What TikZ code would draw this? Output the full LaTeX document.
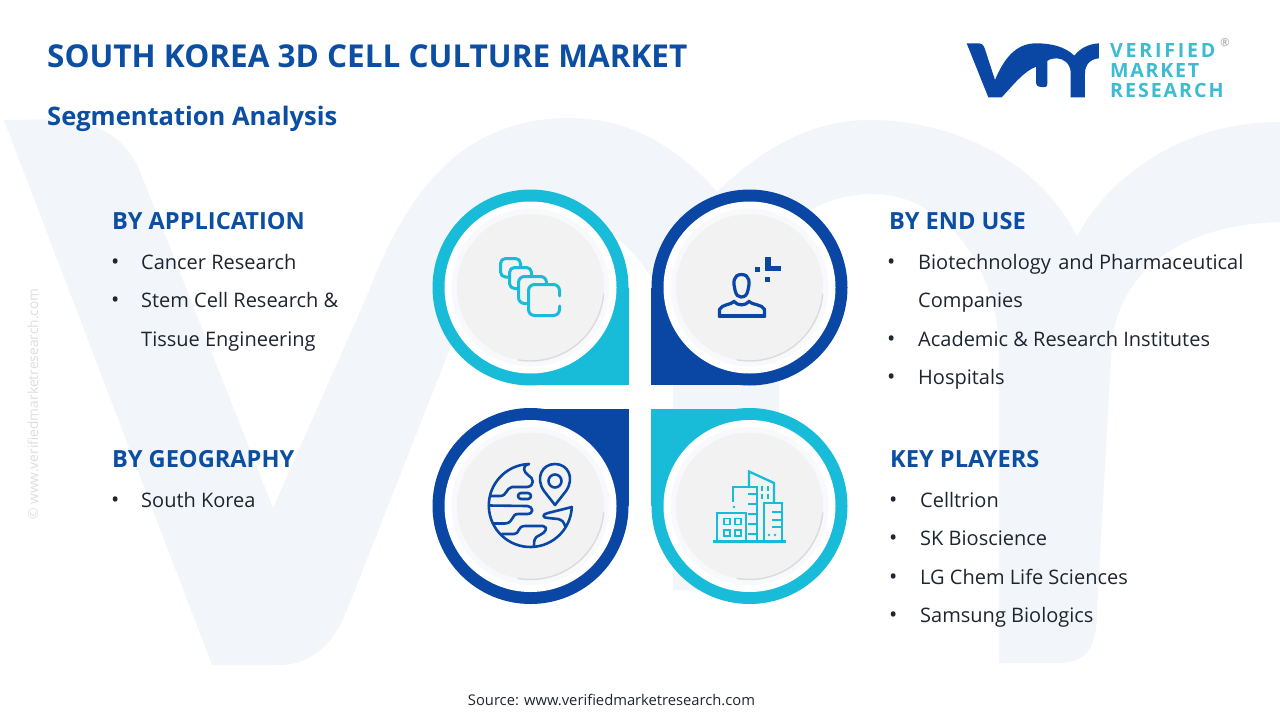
\documentclass[tikz,border=0pt]{standalone}
\usepackage{fontspec}
\setmainfont{Open Sans}
\newfontfamily\lgfa[LetterSpace=14]{Open Sans}
\newfontfamily\lgfb[LetterSpace=9]{Open Sans}
\newfontfamily\lgfc[LetterSpace=10]{Open Sans}
\definecolor{navy}{HTML}{0A47A5}
\definecolor{cyan1}{HTML}{18BCD9}
\definecolor{ttl}{HTML}{0B4EA2}
\definecolor{wm}{HTML}{F2F5FA}
\definecolor{body}{HTML}{1E2530}
\definecolor{disc}{HTML}{F2F2F3}
\definecolor{logotxt}{HTML}{3DBBD0}
\definecolor{halo}{HTML}{F8F9FC}
\tikzset{
 head/.style={anchor=base west,text=ttl,font=\fontsize{23.6}{24}\selectfont\bfseries,inner sep=0},
 item/.style={anchor=base west,text=body,font=\fontsize{20}{20}\selectfont,inner sep=0},
 bul/.style={anchor=base west,text=body,font=\fontsize{22}{22}\selectfont,inner sep=0},
 logol/.style={anchor=base west,text=logotxt,inner sep=0},
}
\newcommand{\drop}[5]{% cx cy sx sy color
 \fill[#5] (#1,#2) circle[radius=98];
 \fill[#5] (#1,#2) rectangle (#1+#3*98.5,#2+#4*97.5);
 \fill[white] (#1,#2) circle[radius=86];
 \fill[halo] (#1,#2) circle[radius=79];
 \fill[disc] (#1,#2) circle[radius=73.5];
 \draw[black!14,line width=1.4pt] (#1,#2) ++(5:73.5) arc[start angle=5,end angle=100,radius=73.5];
}
\begin{document}
\begin{tikzpicture}[x=1pt,y=-1pt]
\useasboundingbox (0,0) rectangle (1280,720);
\fill[white] (0,0) rectangle (1280,720);
% watermark
\fill[wm] (4,120) .. controls (60,120) and (112,112) .. (139,169) -- (273,508) -- (367,296) .. controls (400,210) and (450,118) .. (570,118) .. controls (640,118) and (690,160) .. (717,192) .. controls (760,150) and (810,120) .. (870,120) .. controls (950,120) and (1040,160) .. (1077,237) .. controls (1100,190) and (1170,122) .. (1280,122) -- (1280,222) .. controls (1180,225) and (1122,270) .. (1112,340) -- (1097,610) .. controls (1097,650) and (1085,662) .. (1060,663) -- (999,663) -- (999,345) .. controls (995,260) and (940,194) .. (873,194) .. controls (830,194) and (790,215) .. (779,243) -- (779,590) -- (673,590) -- (673,320) .. controls (655,270) and (610,215) .. (560,215) .. controls (500,215) and (465,310) .. (445,361) -- (347,610) .. controls (335,640) and (315,665) .. (278,665) -- (212,665) -- cycle;
% header
\node[anchor=base west,text=ttl,font=\fontsize{31.5}{32}\selectfont\bfseries,inner sep=0] (title) at (47,67) {SOUTH KOREA 3D CELL CULTURE MARKET};
\node[anchor=base west,text=ttl,font=\fontsize{25.5}{26}\selectfont\bfseries,inner sep=0] (sub) at (47,125) {Segmentation Analysis};
% logo
\begin{scope}[shift={(960,35)},x=0.3333pt,y=-0.3333pt]
\fill[navy] (20,25) -- (55,25) .. controls (66,25) and (70,30) .. (74,40) -- (105,135) .. controls (130,75) and (165,25) .. (228,25) .. controls (275,25) and (315,35) .. (343,62) .. controls (360,40) and (385,27) .. (417,25) -- (417,70) .. controls (390,72) and (375,90) .. (375,115) -- (375,187) -- (332,187) -- (332,110) .. controls (330,85) and (310,70) .. (290,70) .. controls (280,70) and (268,72) .. (262,78) -- (262,145) .. controls (262,158) and (255,156) .. (245,156) .. controls (232,156) and (228,150) .. (228,140) -- (228,95) .. controls (190,110) and (160,150) .. (125,187) -- (85,187) -- cycle;
\end{scope}
\node[logol,font=\fontsize{19.6}{20}\selectfont\lgfa\bfseries] (l1) at (1110,57) {VERIFIED};
\node[logol,font=\fontsize{19.6}{20}\selectfont\lgfb\bfseries] (l2) at (1110,77) {MARKET};
\node[logol,font=\fontsize{19.6}{20}\selectfont\lgfc\bfseries] (l3) at (1110,97) {RESEARCH};
\node[text=gray!80,font=\fontsize{11}{11}\selectfont,inner sep=0] (reg) at (1225,43) {®};
% drops
\drop{530.5}{287.5}{1}{1}{cyan1}
\drop{749.5}{287.5}{-1}{1}{navy}
\drop{530.5}{506}{1}{-1}{navy}
\drop{749.5}{506}{-1}{-1}{cyan1}
% icon 1
\begin{scope}[cyan1,line width=3pt,line join=round,line cap=round]
\draw[rounded corners=5pt,fill=disc] (500.5,258.5) rectangle (520.5,277);
\draw[rounded corners=5pt,fill=disc] (509.5,267.5) rectangle (531.5,288.5);
\draw[rounded corners=6pt,fill=disc] (518.5,276.5) rectangle (546.5,303.5);
\fill[disc] (527,283) rectangle (561,317);
\draw[rounded corners=6pt] (559.5,296) -- (559.5,284.5) -- (528.5,284.5) -- (528.5,315.5) -- (559.5,315.5) -- (559.5,306);
\end{scope}
% icon 2
\begin{scope}[navy,line width=3.2pt,line join=miter]
\draw (741.5,274.5) .. controls (733,274.5) and (733,283) .. (735,290) .. controls (736,295) and (738,297) .. (741,297) .. controls (745,297) and (747,295) .. (748,290) .. controls (750,283) and (750,274.5) .. (741.5,274.5) -- cycle;
\draw (719.5,316) -- (719.5,309.5) .. controls (722,304) and (731,305) .. (734,301.5) .. controls (738,306) and (745,306) .. (749,301.5) .. controls (752,305) and (762,304) .. (764.5,309.5) -- (764.5,316) -- cycle;
\fill (719,313.5) rectangle (765,318);
\fill (755,267) rectangle (760,271.5);
\fill (765,277) rectangle (770,282);
\fill (765,257) rectangle (771,271);
\fill (765,266) rectangle (781,271);
\end{scope}
% icon 3
\begin{scope}[navy,line width=2.6pt,line cap=round,line join=round]
\draw (530.3,505.5) ++(-92:41.5) arc[start angle=-92,end angle=-358,radius=41.5];
\draw (529,464) .. controls (521,466) and (524,472) .. (528,475) .. controls (534,478) and (535,486) .. (527,487) -- (512,487) .. controls (506,488) and (507,496) .. (500,496) -- (491,496);
\draw[rounded corners=3pt] (518,493) rectangle (531,499);
\draw (489,505.5) -- (527,506) .. controls (534,507) and (534,514) .. (527,514) -- (518,514) .. controls (511,514) and (514,523) .. (505,523.5) -- (493,523.5);
\draw (502,534) -- (514,534) .. controls (520,534) and (517,526) .. (525,526) -- (543,526) .. controls (549,527) and (545,533) .. (540,535) .. controls (534,537) and (534,541) .. (534,546);
\draw (572,507) -- (548,513) .. controls (542,514) and (542,518) .. (548,518) -- (558,519) .. controls (562,520) and (564,522) .. (565,526);
\draw (555,505) -- (544,491) .. controls (535,478) and (542,464) .. (555,464) .. controls (568,464) and (575,478) .. (566,491) -- cycle;
\draw (555,481) circle[radius=6.5];
\end{scope}
% icon 4
\begin{scope}[cyan1,line width=2.3pt,line cap=butt,line join=miter]
\draw[line width=3pt] (713,541) -- (786,541);
\draw (717,540) -- (717,513) -- (746,513) -- (746,540);
\draw (733,502) -- (733,487) -- (757,487) -- (757,540);
\draw (749,486) -- (749,471.5) -- (774,483) -- (774,502);
\draw (764,540) -- (764,503) -- (782,503) -- (782,540);
\foreach \a/\b in {727/521.5,738/521.5,727/533,738/533} \draw[line width=1.8pt] (\a-3.3,\b-3) rectangle (\a+3.3,\b+3);
\foreach \b in {494,504,514,524,534} \draw (748,\b) -- (757,\b);
\foreach \b in {512,520,527} \draw (772,\b) -- (782,\b);
\foreach \a/\b in {762/488.5,768/488.5,762/496.5,768/496.5} \draw[line width=2pt] (\a,\b-2.5) -- (\a,\b+2.5);
\fill (734,507) circle[radius=1.3];
\fill (769,535) circle[radius=1.3];
\fill (775,535) circle[radius=1.3];
\end{scope}
% text blocks
\node[head] (h1) at (112,229) {BY APPLICATION};
\node[bul] (b11) at (111,269) {•}; \node[item] (t11) at (141,269) {Cancer Research};
\node[bul] (b12) at (111,307) {•}; \node[item] (t12) at (141,307) {Stem Cell Research \&};
\node[item] (t13) at (141,346) {Tissue Engineering};
\node[head] (h2) at (889,229) {BY END USE};
\node[bul] (b21) at (887,269) {•}; \node[item] (t21) at (918,269) {Biotechnology\hspace{7.4pt}and Pharmaceutical};
\node[item] (t22) at (918,307) {Companies};
\node[bul] (b22) at (887,346) {•}; \node[item] (t23) at (918,346) {Academic \& Research Institutes};
\node[bul] (b23) at (887,384) {•}; \node[item] (t24) at (918,384) {Hospitals};
\node[head] (h3) at (112,467) {BY GEOGRAPHY};
\node[bul] (b31) at (111,507) {•}; \node[item] (t31) at (141,507) {South Korea};
\node[head] (h4) at (890,467) {KEY PLAYERS};
\node[bul] (b41) at (889,507) {•}; \node[item] (t41) at (920,507) {Celltrion};
\node[bul] (b42) at (889,545) {•}; \node[item] (t42) at (920,545) {SK Bioscience};
\node[bul] (b43) at (889,584) {•}; \node[item] (t43) at (920,584) {LG Chem Life Sciences};
\node[bul] (b44) at (889,622) {•}; \node[item] (t44) at (920,622) {Samsung Biologics};
\node[anchor=base,text=body,font=\fontsize{14.75}{15}\selectfont,inner sep=0] (src) at (611.5,705) {Source: www.verifiedmarketresearch.com};
\node[rotate=90,text=black!13,font=\fontsize{13.8}{14}\selectfont,inner sep=0] (wmk) at (33,404) {© www.verifiedmarketresearch.com};
\end{tikzpicture}
\end{document}
